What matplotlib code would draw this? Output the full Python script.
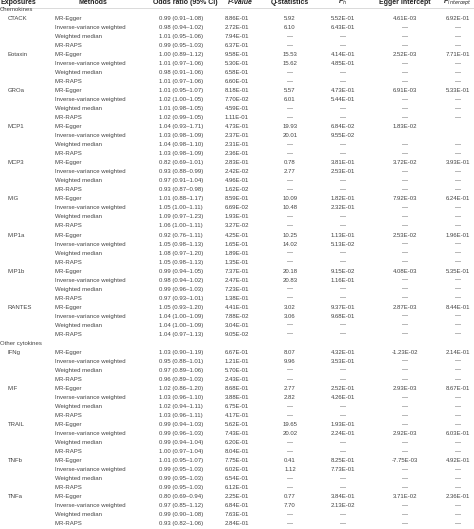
import matplotlib
matplotlib.use("Agg")
import matplotlib.pyplot as plt

headers = ["Exposures", "Methods", "Odds ratio (95% CI)", "P-value", "Q-statistics", "P$_h$", "Egger intercept", "P$_{intercept}$"]
groups = ["Chemokines", "Other cytokines"]
group_exposures = [["CTACK", "Eotaxin", "GROa", "MCP1", "MCP3", "MIG", "MIP1a", "MIP1b", "RANTES"],
                   ["IFNg", "MIF", "TRAIL", "TNFb", "TNFa"]]
methods = ["MR-Egger", "Inverse-variance weighted", "Weighted median", "MR-RAPS"]
D = "—"
odds = ["0.99 (0.91–1.08)", "0.98 (0.94–1.02)", "1.01 (0.95–1.06)", "0.99 (0.95–1.03)",
        "1.00 (0.89–1.12)", "1.01 (0.97–1.06)", "0.98 (0.91–1.06)", "1.01 (0.97–1.06)",
        "1.01 (0.95–1.07)", "1.02 (1.00–1.05)", "1.01 (0.98–1.05)", "1.02 (0.99–1.05)",
        "1.04 (0.93–1.71)", "1.03 (0.98–1.09)", "1.04 (0.98–1.10)", "1.03 (0.98–1.09)",
        "0.82 (0.69–1.01)", "0.93 (0.88–0.99)", "0.97 (0.91–1.04)", "0.93 (0.87–0.98)",
        "1.01 (0.88–1.17)", "1.05 (1.00–1.11)", "1.09 (0.97–1.23)", "1.06 (1.00–1.11)",
        "0.92 (0.76–1.11)", "1.05 (0.98–1.13)", "1.08 (0.97–1.20)", "1.05 (0.98–1.13)",
        "0.99 (0.94–1.05)", "0.98 (0.94–1.02)", "0.99 (0.96–1.03)", "0.97 (0.93–1.01)",
        "1.05 (0.93–1.20)", "1.04 (1.00–1.09)", "1.04 (1.00–1.09)", "1.04 (0.97–1.13)",
        "1.03 (0.90–1.19)", "0.95 (0.88–1.01)", "0.97 (0.89–1.06)", "0.96 (0.89–1.03)",
        "1.02 (0.86–1.20)", "1.03 (0.96–1.10)", "1.02 (0.94–1.11)", "1.03 (0.96–1.11)",
        "0.99 (0.94–1.03)", "0.99 (0.96–1.03)", "0.99 (0.94–1.04)", "1.00 (0.97–1.04)",
        "1.01 (0.95–1.07)", "0.99 (0.95–1.03)", "0.99 (0.95–1.03)", "0.99 (0.95–1.03)",
        "0.80 (0.69–0.94)", "0.97 (0.85–1.12)", "0.99 (0.90–1.08)", "0.93 (0.82–1.06)"]
pvals = ["8.86E-01", "2.72E-01", "7.94E-01", "6.37E-01",
         "9.58E-01", "5.30E-01", "6.58E-01", "6.60E-01",
         "8.18E-01", "7.70E-02", "4.59E-01", "1.11E-01",
         "4.73E-01", "2.37E-01", "2.31E-01", "2.36E-01",
         "2.83E-01", "2.42E-02", "4.96E-01", "1.62E-02",
         "8.59E-01", "6.69E-02", "1.93E-01", "3.27E-02",
         "4.25E-01", "1.65E-01", "1.89E-01", "1.35E-01",
         "7.37E-01", "2.47E-01", "7.23E-01", "1.38E-01",
         "4.41E-01", "7.88E-02", "3.04E-01", "9.05E-02",
         "6.67E-01", "1.21E-01", "5.70E-01", "2.43E-01",
         "8.68E-01", "3.88E-01", "6.75E-01", "4.17E-01",
         "5.62E-01", "7.43E-01", "6.20E-01", "8.04E-01",
         "7.75E-01", "6.02E-01", "6.54E-01", "6.12E-01",
         "2.25E-01", "6.84E-01", "7.63E-01", "2.84E-01"]
qstat = ["5.92", "6.10", "15.53", "15.62", "5.57", "6.01", "19.93", "20.01", "0.78", "2.77",
         "10.09", "10.48", "10.25", "14.02", "20.18", "20.83", "3.02", "3.06",
         "8.07", "9.96", "2.77", "2.82", "19.65", "20.02", "0.41", "1.12", "0.77", "7.70"]
ph = ["5.52E-01", "6.43E-01", "4.14E-01", "4.85E-01", "4.73E-01", "5.44E-01", "6.84E-02", "9.55E-02",
      "3.81E-01", "2.53E-01", "1.82E-01", "2.32E-01", "1.13E-01", "5.13E-02", "9.15E-02", "1.16E-01",
      "9.37E-01", "9.68E-01", "4.32E-01", "3.53E-01", "2.52E-01", "4.26E-01", "1.93E-01", "2.24E-01",
      "8.25E-01", "7.73E-01", "3.84E-01", "2.13E-02"]
egger = ["4.61E-03", D, "2.52E-03", D, "6.91E-03", D, "1.83E-02", "", "3.72E-02", D,
         "7.92E-03", D, "2.53E-02", D, "4.08E-03", D, "2.87E-03", D,
         "-1.23E-02", D, "2.93E-03", D, D, "2.92E-03", "-7.75E-03", D, "3.71E-02", D]
pint = ["6.92E-01", D, "7.71E-01", D, "5.33E-01", D, "", "", "3.93E-01", D,
        "6.24E-01", D, "1.96E-01", D, "5.35E-01", D, "8.44E-01", D,
        "2.14E-01", D, "8.67E-01", D, D, "6.03E-01", "4.92E-01", D, "2.36E-01", D]

plt.rcParams['font.family'] = ['Liberation Sans', 'DejaVu Sans']
fig = plt.figure(figsize=(4.74, 5.29), dpi=100)
ax = fig.add_axes([0, 0, 1, 1])
ax.set_xlim(0, 474); ax.set_ylim(529, 0); ax.axis("off")
col = "#444444"
fs = 4.3
hx = [18, 93, 185, 240, 290, 343, 405, 458]
for x, h in zip(hx, headers):
    ax.text(x, 2, h, ha="center", va="center", fontsize=5.0, fontweight="bold", color="#222",
            fontstyle="italic" if h.startswith("P") else "normal")
ax.plot([0, 474], [7.5, 7.5], color="#cccccc", lw=0.5)

step = 9.02
y = 9.5
i = 0
k = 0
for g, exps in zip(groups, group_exposures):
    ax.text(0, y, g, ha="left", va="center", fontsize=fs, color=col)
    y += step
    for e in exps:
        for m_i, m in enumerate(methods):
            if m_i == 0:
                ax.text(8, y, e, ha="left", va="center", fontsize=fs, color=col)
            ax.text(55, y, m, ha="left", va="center", fontsize=fs, color=col)
            ax.text(203, y, odds[i], ha="right", va="center", fontsize=fs, color=col)
            ax.text(225, y, pvals[i], ha="left", va="center", fontsize=fs, color=col)
            if m_i < 2:
                vals = (qstat[k], ph[k], egger[k], pint[k])
                k += 1
            else:
                vals = (D, D, D, D)
            for x, v in zip([290, 343, 405, 458], vals):
                ax.text(x, y, v, ha="center", va="center", fontsize=fs, color=col)
            i += 1
            y += step

fig.savefig("out.png", dpi=100)
